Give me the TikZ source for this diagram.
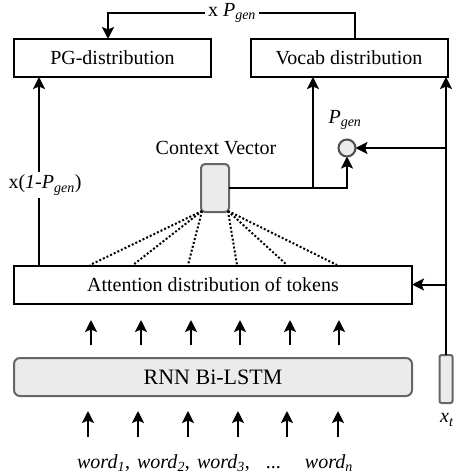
\documentclass[tikz,border=0pt]{standalone}
\usepackage{fontspec}
\setmainfont{Liberation Serif}
\usetikzlibrary{arrows.meta}
\begin{document}
\begin{tikzpicture}[x=1pt,y=-1pt,
  every node/.style={font=\fontsize{20}{24}\selectfont, inner sep=0pt, outer sep=0pt},
  boxa/.style={draw=black, line width=2pt, fill=white},
  boxg/.style={draw=black!60, line width=2pt, fill=black!8, rounded corners=6pt},
  ln/.style={line width=2pt},
  arr/.style={line width=2pt, -{Stealth[length=12pt,width=12pt,inset=2.5pt]}},
  dot/.style={line width=2pt, dash pattern=on 2pt off 2pt},
  lbl/.style={fill=white, inner sep=3pt}]
\useasboundingbox (0,0) rectangle (474,474);
% boxes
\node[boxa, minimum width=197pt, minimum height=38pt] (pg) at (112.5,58) {PG-distribution};
\node[boxa, minimum width=197pt, minimum height=38pt] (vocab) at (349,58) {Vocab distribution};
\node[boxa, minimum width=398pt, minimum height=38pt] (att) at (213,284.5) {Attention distribution of tokens};
\node[boxg, minimum width=398pt, minimum height=38pt, font=\fontsize{22}{26}\selectfont] (rnn) at (213,377) {RNN Bi-LSTM};
\node[boxg, rounded corners=4pt, minimum width=28pt, minimum height=48pt] (ctx) at (215,188) {};
\node[boxg, rounded corners=2pt, minimum width=13pt, minimum height=48pt] (xt) at (446,379) {};
\node[circle, draw=black!70, line width=2pt, fill=black!8, minimum size=17pt] (pgen) at (347,148) {};
% labels
\node (ctxl) at (216,148) {Context Vector};
\node (pgenl) at (345,120) {\textit{P}\textsubscript{\textit{gen}}};
\node (xtl) at (447,420) {\textit{x}\textsubscript{\textit{t}}};
\node (words) at (215,463) {\textit{word}\textsubscript{\textit{1}},\hspace{0.35em}\textit{word}\textsubscript{\textit{2}},\hspace{0.35em}\textit{word}\textsubscript{\textit{3}},\hspace{0.8em}...\hspace{1.2em}\textit{word}\textsubscript{\textit{n}}};
% top connector
\coordinate (tr) at (355,13);
\coordinate (tl) at (108,13);
\draw[arr] (vocab.north -| tr) -- (tr) -- (tl) -- (pg.north -| tl);
\node[lbl] (xpgen) at (232,13) {x \textit{P}\textsubscript{\textit{gen}}};
% left connector
\coordinate (lb) at (39,265);
\draw[arr] (lb) -- (pg.south -| lb);
\node[lbl] (oneminus) at (45,185) {x(\textit{1-P}\textsubscript{\textit{gen}})};
% right vertical line
\coordinate (rv) at (447,148);
\draw[arr] (xt.north) -- (vocab.south -| xt.north);
\draw[arr] (rv) -- (pgen.east);
\draw[arr] (att.east -| rv) -- (att.east);
% context connections
\coordinate (c1) at (313,188);
\coordinate (c2) at (347,188);
\draw[arr] (ctx.east) -- (c2) -- (pgen.south);
\draw[arr] (c1) -- (vocab.south -| c1);
% dotted attention lines
\coordinate (cbl) at (202,211);
\coordinate (cbr) at (228,211);
\foreach \x in {90,133,188} \draw[dot] (cbl) -- (\x,265);
\foreach \x in {237,287,337} \draw[dot] (cbr) -- (\x,265);
% arrows between RNN and attention
\foreach \x in {91,141,191,240,290,339} \draw[arr] (\x,345) -- (\x,320);
\foreach \x in {88,138,188,238,287,338} \draw[arr] (\x,437) -- (\x,411);
\end{tikzpicture}
\end{document}
